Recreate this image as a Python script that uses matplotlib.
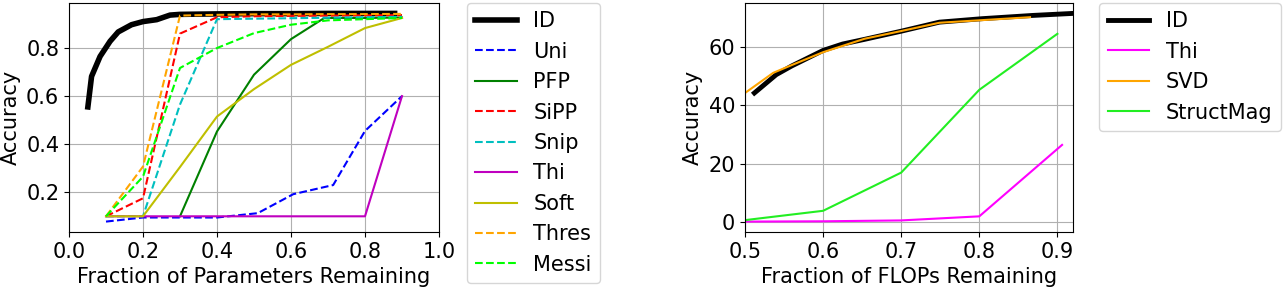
import matplotlib
matplotlib.use("Agg")
import matplotlib.pyplot as plt

plt.rcParams['font.family'] = ['DejaVu Sans']
plt.rcParams['font.size'] = 15

# left panel: accuracy vs fraction of parameters remaining
id_x = [0.051, 0.061, 0.084, 0.111, 0.133, 0.169, 0.2, 0.237, 0.273, 0.3, 0.4, 0.5, 0.6, 0.7, 0.8, 0.88]
id_y = [0.555, 0.682, 0.765, 0.828, 0.867, 0.897, 0.91, 0.918, 0.937, 0.94, 0.942, 0.943, 0.943, 0.944, 0.944, 0.944]

frac = [0.1, 0.2, 0.3, 0.4, 0.5, 0.6, 0.7, 0.8, 0.9]
uni_x = [0.1, 0.2, 0.3, 0.4, 0.51, 0.606, 0.714, 0.8, 0.9]
uni_y = [0.078, 0.095, 0.095, 0.095, 0.113, 0.192, 0.23, 0.455, 0.6]
pfp_x = [0.3, 0.4, 0.5, 0.6, 0.69, 0.8, 0.9]
pfp_y = [0.1, 0.453, 0.689, 0.837, 0.925, 0.925, 0.927]
sipp_y = [0.1, 0.175, 0.86, 0.928, 0.932, 0.934, 0.935, 0.936, 0.937]
snip_y = [0.1, 0.1, 0.565, 0.92, 0.922, 0.924, 0.926, 0.928, 0.93]
thi_y = [0.1, 0.1, 0.1, 0.1, 0.1, 0.1, 0.1, 0.1, 0.6]
soft_y = [0.1, 0.1, 0.305, 0.515, 0.629, 0.73, 0.805, 0.883, 0.925]
thres_y = [0.1, 0.307, 0.935, 0.938, 0.94, 0.94, 0.941, 0.941, 0.942]
messi_y = [0.1, 0.265, 0.717, 0.8, 0.862, 0.897, 0.915, 0.92, 0.925]

# right panel: accuracy vs fraction of FLOPs remaining
id2_x = [0.512, 0.54, 0.56, 0.6, 0.625, 0.653, 0.7, 0.749, 0.804, 0.868, 0.92]
id2_y = [44.2, 50.5, 53.5, 58.8, 61.0, 62.6, 65.4, 68.5, 69.7, 70.8, 71.5]
thi2_x = [0.5, 0.6, 0.7, 0.8, 0.906]
thi2_y = [0.1, 0.2, 0.5, 1.9, 26.4]
svd_x = [0.5, 0.536, 0.56, 0.6, 0.653, 0.699, 0.749, 0.804, 0.865]
svd_y = [44.2, 51.1, 53.8, 58.2, 62.8, 65.4, 68.3, 69.2, 70.2]
sm_x = [0.5, 0.6, 0.7, 0.8, 0.9]
sm_y = [0.6, 3.8, 16.9, 45.3, 64.5]

fig = plt.figure(figsize=(12.85, 2.9), dpi=100)
ax1 = fig.add_axes([69 / 1285, 58 / 290, 370 / 1285, 229 / 290])
ax2 = fig.add_axes([745 / 1285, 58 / 290, 328 / 1285, 229 / 290])

ax1.plot(id_x, id_y, color='k', lw=4, label='ID')
ax1.plot(uni_x, uni_y, 'b--', lw=1.5, label='Uni')
ax1.plot(pfp_x, pfp_y, 'g-', lw=1.5, label='PFP')
ax1.plot(frac, sipp_y, 'r--', lw=1.5, label='SiPP')
ax1.plot(frac, snip_y, 'c--', lw=1.5, label='Snip')
ax1.plot(frac, thi_y, 'm-', lw=1.5, label='Thi')
ax1.plot(frac, soft_y, 'y-', lw=1.5, label='Soft')
ax1.plot(frac, thres_y, '--', color='orange', lw=1.5, label='Thres')
ax1.plot(frac, messi_y, '--', color='lime', lw=1.5, label='Messi')
ax1.set_xlim(0, 1.0)
ax1.set_xticks([0.0, 0.2, 0.4, 0.6, 0.8, 1.0])
ax1.set_yticks([0.2, 0.4, 0.6, 0.8])
ax1.grid(True, color='#b0b0b0', lw=0.8)
ax1.set_xlabel('Fraction of Parameters Remaining')
ax1.set_ylabel('Accuracy')
ax1.legend(loc='upper left', bbox_to_anchor=(1.075, 1.0), borderaxespad=0, labelspacing=0.5)

ax2.plot(id2_x, id2_y, color='k', lw=3.5, label='ID')
ax2.plot(thi2_x, thi2_y, color='magenta', lw=1.5, label='Thi')
ax2.plot(svd_x, svd_y, color='orange', lw=1.5, label='SVD')
ax2.plot(sm_x, sm_y, color='#22ee22', lw=1.5, label='StructMag')
ax2.set_xlim(0.5, 0.92)
ax2.set_xticks([0.5, 0.6, 0.7, 0.8, 0.9])
ax2.set_yticks([0, 20, 40, 60])
ax2.grid(True, color='#b0b0b0', lw=0.8)
ax2.set_xlabel('Fraction of FLOPs Remaining')
ax2.set_ylabel('Accuracy')
ax2.legend(loc='upper left', bbox_to_anchor=(1.08, 1.0), borderaxespad=0, labelspacing=0.5)

fig.savefig('out.png', dpi=100)
